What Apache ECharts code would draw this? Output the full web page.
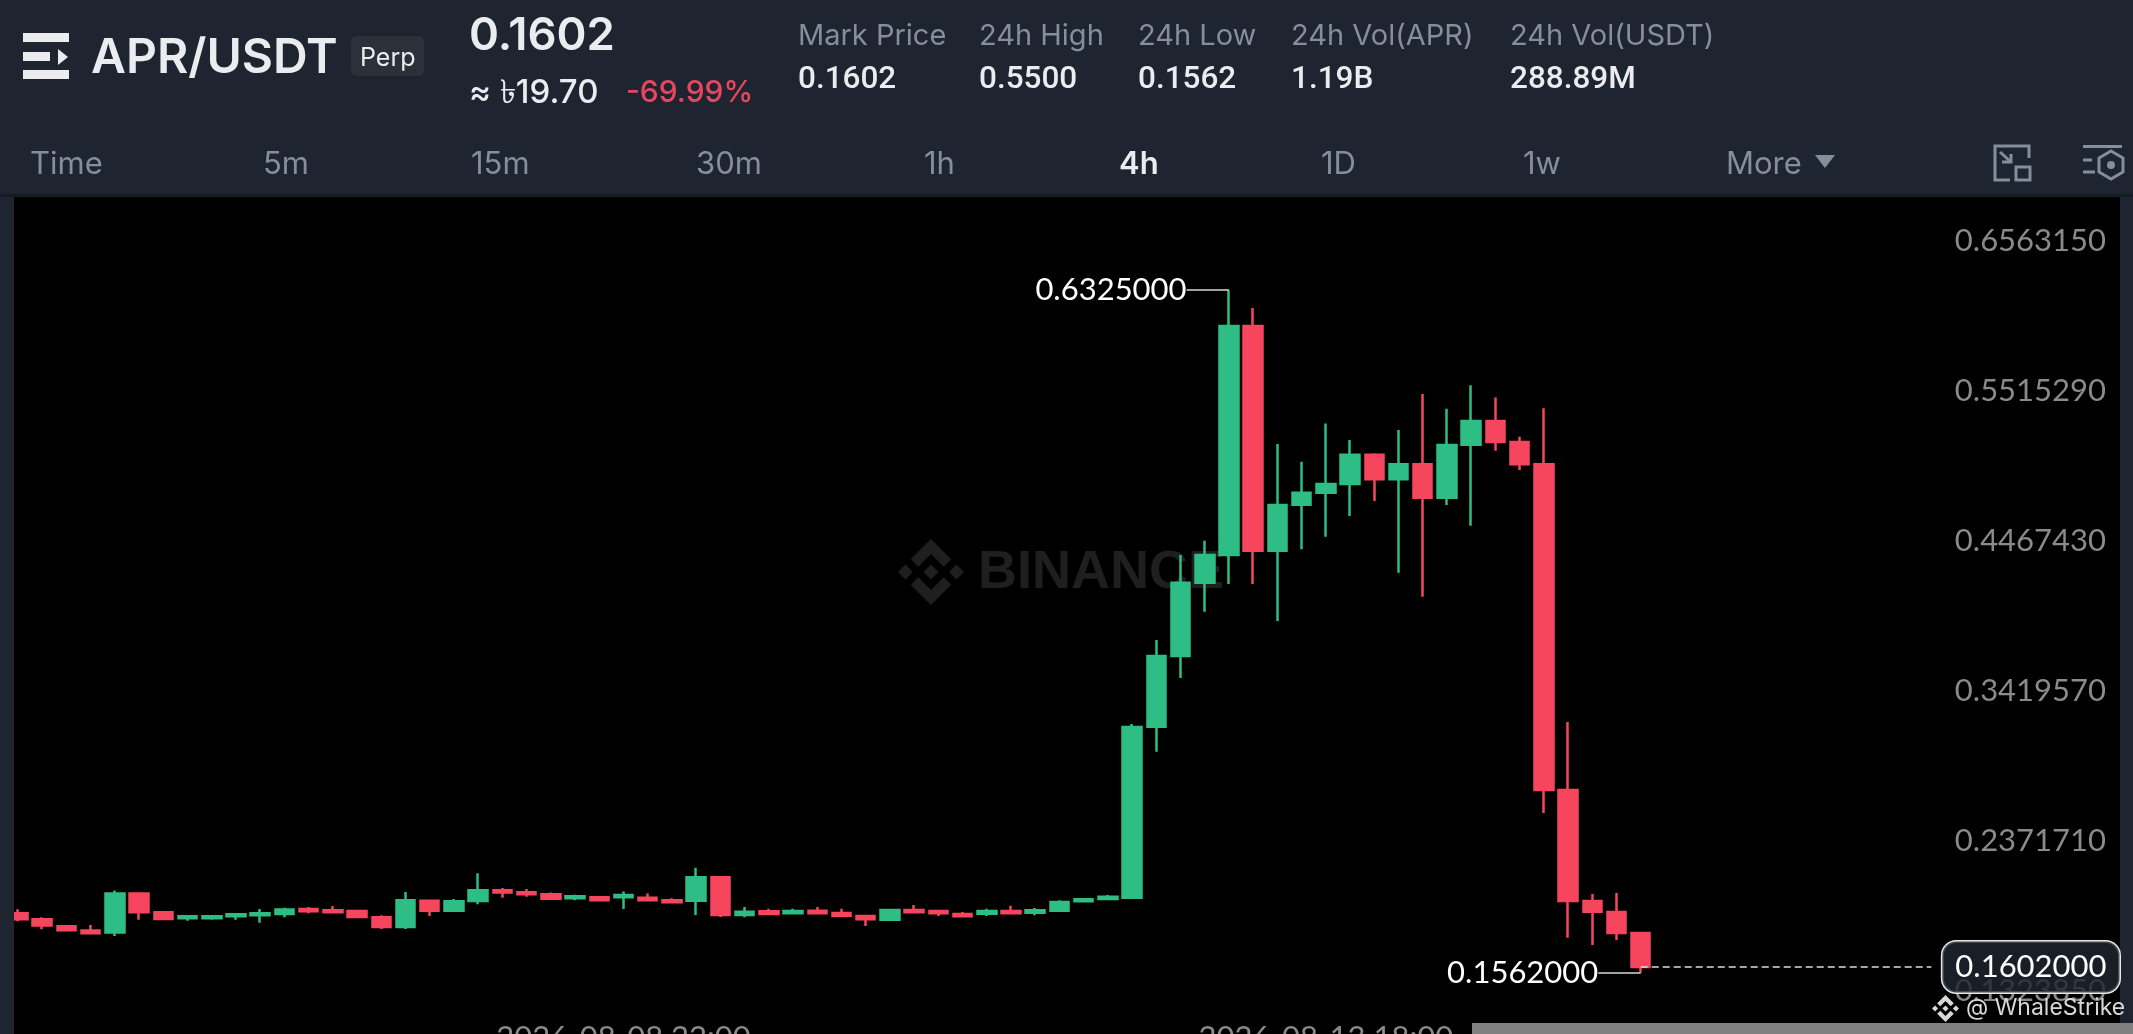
<!DOCTYPE html>
<html>
<head>
<meta charset="utf-8">
<style>html,body{margin:0;padding:0;background:#1e2430;overflow:hidden}#c{width:2133px;height:1034px}</style>
<script src="https://cdn.jsdelivr.net/npm/echarts@6/dist/echarts.min.js"></script>
</head>
<body>
<div id="c"></div>
<script>
// Data
const times = [
'2026-08-04 18:00','2026-08-04 22:00','2026-08-05 02:00','2026-08-05 06:00','2026-08-05 10:00','2026-08-05 14:00','2026-08-05 18:00','2026-08-05 22:00',
'2026-08-06 02:00','2026-08-06 06:00','2026-08-06 10:00','2026-08-06 14:00','2026-08-06 18:00','2026-08-06 22:00',
'2026-08-07 02:00','2026-08-07 06:00','2026-08-07 10:00','2026-08-07 14:00','2026-08-07 18:00','2026-08-07 22:00',
'2026-08-08 02:00','2026-08-08 06:00','2026-08-08 10:00','2026-08-08 14:00','2026-08-08 18:00','2026-08-08 22:00',
'2026-08-09 02:00','2026-08-09 06:00','2026-08-09 10:00','2026-08-09 14:00','2026-08-09 18:00','2026-08-09 22:00',
'2026-08-10 02:00','2026-08-10 06:00','2026-08-10 10:00','2026-08-10 14:00','2026-08-10 18:00','2026-08-10 22:00',
'2026-08-11 02:00','2026-08-11 06:00','2026-08-11 10:00','2026-08-11 14:00','2026-08-11 18:00','2026-08-11 22:00',
'2026-08-12 02:00','2026-08-12 06:00','2026-08-12 10:00','2026-08-12 14:00','2026-08-12 18:00','2026-08-12 22:00',
'2026-08-13 02:00','2026-08-13 06:00','2026-08-13 10:00','2026-08-13 14:00','2026-08-13 18:00','2026-08-13 22:00',
'2026-08-14 02:00','2026-08-14 06:00','2026-08-14 10:00','2026-08-14 14:00','2026-08-14 18:00','2026-08-14 22:00',
'2026-08-15 02:00','2026-08-15 06:00','2026-08-15 10:00','2026-08-15 14:00','2026-08-15 18:00','2026-08-15 22:00',
'2026-08-16 02:00','2026-08-16 06:00','2026-08-16 10:00','2026-08-16 14:00','2026-08-16 18:00','2026-08-16 22:00',
'2026-08-17 02:00','2026-08-17 06:00','2026-08-17 10:00','2026-08-17 14:00','2026-08-17 18:00','2026-08-17 22:00',
'2026-08-18 02:00','2026-08-18 06:00','2026-08-18 10:00','2026-08-18 14:00','2026-08-18 18:00','2026-08-18 22:00','2026-08-19 02:00'
];
const shownTimes = ['2026-08-08 22:00','2026-08-13 18:00'];
const yTicks = [0.132385,0.237171,0.341957,0.446743,0.551529,0.656315];
// [open, close, low, high]
const candles = [
[.1977,.1935,.1921,.2005],[.1935,.1891,.1865,.1949],[.1886,.1858,.1849,.1891],[.1856,.1837,.1832,.1895],
[.1842,.2114,.1818,.2135],[.2114,.1984,.1932,.2114],[.1984,.1937,.1932,.1993],[.1942,.1956,.1925,.1960],
[.1942,.1956,.1932,.1965],[.1956,.1970,.1932,.1979],[.1963,.1977,.1911,.2007],[.1972,.2004,.1949,.2016],
[.2007,.1991,.1977,.2021],[.1998,.1984,.1979,.2028],[.1993,.1951,.1949,.1998],[.1949,.1881,.1867,.1963],
[.1881,.2067,.1867,.2125],[.2065,.1995,.1958,.2067],[.1995,.2060,.1986,.2077],[.2063,.2137,.2039,.2256],
[.2137,.2121,.2086,.2153],[.2123,.2109,.2093,.2146],[.2109,.2079,.2072,.2121],[.2081,.2095,.2067,.2107],
[.2088,.2067,.2060,.2098],[.2088,.2105,.2007,.2128],[.2086,.2067,.2060,.2114],[.2067,.2053,.2049,.2081],
[.2065,.2228,.1965,.2295],[.2228,.1965,.1951,.2228],[.1965,.1988,.1949,.2021],[.1991,.1972,.1967,.2009],
[.1977,.1993,.1972,.2009],[.1995,.1977,.1970,.2021],[.1979,.1960,.1953,.2009],[.1958,.1935,.1888,.1963],
[.1932,.2000,.1930,.2007],[.2000,.1984,.1979,.2035],[.1993,.1977,.1958,.2000],[.1972,.1956,.1951,.1986],
[.1974,.1993,.1958,.2009],[.1993,.1977,.1972,.2030],[.1981,.1998,.1963,.2014],[.1995,.2056,.1988,.2067],
[.2060,.2074,.2056,.2079],[.2077,.2093,.2067,.2105],[.2086,.3277,.2083,.3298],[.3279,.3772,.3104,.3884],
[.3772,.4284,.3619,.4477],[.4284,.4477,.4081,.4577],[.4477,.6075,.4275,.6325],[.6075,.4507,.4275,.6201],
[.4507,.4826,.4017,.5252],[.4828,.4912,.4517,.5128],[.4912,.4972,.4605,.5394],[.4972,.5177,.4749,.5280],
[.5177,.5005,.4854,.5187],[.5005,.5110,.4354,.5349],[.5110,.4877,.4186,.5601],[.4877,.5245,.4826,.5498],
[.5247,.5412,.4682,.5661],[.5412,.5266,.5205,.5577],[.5266,.5110,.5070,.5303],[.5110,.2837,.2677,.5501],
[.2837,.2063,.1806,.3312],[.2063,.1988,.1756,.2111],[.1986,.1839,.1790,.2118],[.1839,.1602,.1562,.1848]
];
const lastPrice = 0.1602, periodHigh = 0.6325, periodLow = 0.1562;
const highIndex = 50, lowIndex = 67, lastIndex = 67, priceTagIndex = 79;
const tabs = ['Time','5m','15m','30m','1h','4h','1D','1w','More'];
const statNames = ['Mark Price','24h High','24h Low','24h Vol(APR)','24h Vol(USDT)'];
const statValues = ['0.1602','0.5500','0.1562','1.19B','288.89M'];

const UP='#2ebd85', DOWN='#f6465d', BG='#1e2430', GREY='#848e9c', WHITE='#eaecef';
const FONT='Inter', NUM='Lato';
const LOGO_PARTS=[
 [[16.62,13.92],[19.34,16.64],[11.99,23.99],[4.63,16.64],[7.35,13.92],[11.99,18.58]],
 [[21.26,9.28],[24,12],[21.28,14.72],[18.57,12]],
 [[11.99,9.28],[14.71,12],[11.99,14.72],[9.27,12]],
 [[2.72,9.28],[5.41,12],[2.72,14.69],[0,12]],
 [[11.99,.01],[19.34,7.34],[16.62,10.06],[11.99,5.42],[7.35,10.08],[4.63,7.36]]
];
const fmt = v => v.toFixed(7);

function txt(text,x,y,size,fill,weight,family,align){
  return {type:'text',z:50,silent:true,style:{text,x,y,fill,font:(weight||400)+' '+size+'px '+(family||FONT),textVerticalAlign:'middle',textAlign:align||'left'}};
}
function rect(x,y,w,h,fill,z,r){return {type:'rect',z:z===undefined?50:z,silent:true,shape:{x,y,width:w,height:h,r:r||0},style:{fill}};}
function pline(points,w,close){return {type:close?'polygon':'polyline',z:50,silent:true,shape:{points},style:{fill:'none',stroke:GREY,lineWidth:w}};}
function logo(x,y,size,fill,z){return LOGO_PARTS.map(p=>({type:'polygon',z,silent:true,shape:{points:p.map(q=>[x+q[0]*size/24,y+q[1]*size/24])},style:{fill}}));}

const tabX=[30,263,471,696,924,1119,1321,1523,1726];
const statX=[798,979,1138,1291,1510];
const graphics=[
  rect(14,197,2106,837,'#000',-2),
  rect(1472,1023,661,11,'#808080',-1),
  rect(0,197,14,837,BG,50),
  rect(2120,197,13,826,BG,-1),
  ...logo(898,539,66,'#1f1f1f',-1),
  {type:'text',z:-1,silent:true,style:{text:'BINANCE',x:978,y:573,fill:'#1f1f1f',font:'700 54px "Liberation Sans"',textVerticalAlign:'middle'}},
  // header
  rect(23,33,46,9,WHITE), rect(23,52,27,9,WHITE), rect(23,70,46,9,WHITE),
  {type:'polygon',z:50,silent:true,shape:{points:[[58,49],[68,57],[58,65]]},style:{fill:WHITE}},
  txt('APR/USDT',91,59,48,WHITE,600),
  rect(351,36,73,40,'#2b3139',50,6),
  txt('Perp',360,58,25,WHITE,400),
  txt('0.1602',469,36,45.5,WHITE,600),
  txt('≈ ৳19.70',469,93,33,WHITE,500),
  txt('-69.99%',626,93,30,'#e6475f',500),
  rect(0,194,2133,3,'#171b22',50),
  // credit
  ...logo(1932,995,27,'#d8d8d8',50),
  txt('@ WhaleStrike',1966,1008,23,'#d8d8d8',400),
  // toolbar icons
  pline([[2029,158],[2029,146],[1995,146],[1995,180],[2010,180]],3),
  pline([[2016,167],[2030,167],[2030,180],[2016,180]],3,true),
  pline([[2000,152],[2011,162]],3),
  pline([[2011,154],[2011,162],[2002,162]],3),
  pline([[2083,146.5],[2122,146.5]],3),
  pline([[2083,160],[2092,160]],3),
  pline([[2083,172],[2095,172]],3),
  pline([[2111,151],[2123,158],[2123,172],[2111,179],[2099,172],[2099,158]],3,true),
  {type:'circle',z:50,silent:true,shape:{cx:2111,cy:165,r:4},style:{fill:GREY}},
  {type:'polygon',z:50,silent:true,shape:{points:[[1815,155],[1835,155],[1825,168]]},style:{fill:GREY}}
];
tabs.forEach((t,i)=>{graphics.push(txt(t,tabX[i],165,31,t==='4h'?WHITE:GREY,t==='4h'?600:400));});
statNames.forEach((t,i)=>{graphics.push(txt(t,statX[i],36,29,GREY,400));graphics.push(txt(statValues[i],statX[i],80,31.5,WHITE,500,'Roboto'));});

const chart=echarts.init(document.getElementById('c'));
chart.setOption({
  animation:false,
  backgroundColor:BG,
  graphic:graphics,
  grid:{left:5.9,right:20,top:197,bottom:19,containLabel:false,outerBoundsMode:'none'},
  xAxis:{type:'category',data:times,boundaryGap:true,axisLine:{show:false},axisTick:{show:false},splitLine:{show:false},
    axisLabel:{color:'#8a8a8a',fontSize:31,fontFamily:NUM,margin:7,hideOverlap:false,
      interval:(i,v)=>shownTimes.includes(v)}},
  yAxis:{type:'value',position:'right',min:0.1267,max:0.69753,axisLine:{show:false},axisTick:{show:false},splitLine:{show:false},
    axisLabel:{inside:true,margin:7,color:'#8a8a8a',fontSize:31,fontFamily:NUM,verticalAlign:'bottom',customValues:yTicks,formatter:v=>fmt(v)}},
  series:[{
    type:'candlestick',data:candles,barWidth:19,clip:true,
    itemStyle:{color:UP,color0:DOWN,borderColor:UP,borderColor0:DOWN,borderWidth:2.5},
    markLine:{silent:true,symbol:'none',animation:false,data:[
      [{coord:[lastIndex,lastPrice],lineStyle:{type:[7,4],color:'#dddddd',width:1.5},
        label:{show:true,position:'end',distance:11,formatter:()=>fmt(lastPrice),color:'#fff',fontSize:31,fontFamily:NUM,
          backgroundColor:'rgba(30,36,48,0.82)',borderColor:'#e8e8e8',borderWidth:1.5,borderRadius:14,padding:[10,13]}},
       {coord:[priceTagIndex,lastPrice]}],
      [{coord:[highIndex-2,periodHigh],lineStyle:{type:'solid',color:'#d8d8d8',width:1.5},
        label:{show:true,position:'start',distance:1,offset:[7,0],backgroundColor:'#000',formatter:()=>fmt(periodHigh),color:'#fff',fontSize:31,fontFamily:NUM}},
       {coord:[highIndex,periodHigh]}],
      [{coord:[lowIndex-2,periodLow],lineStyle:{type:'solid',color:'#d8d8d8',width:1.5},
        label:{show:true,position:'start',distance:1,offset:[7,0],backgroundColor:'#000',formatter:()=>fmt(periodLow),color:'#fff',fontSize:31,fontFamily:NUM}},
       {coord:[lowIndex,periodLow]}]
    ]}
  }]
});
</script>
</body>
</html>
